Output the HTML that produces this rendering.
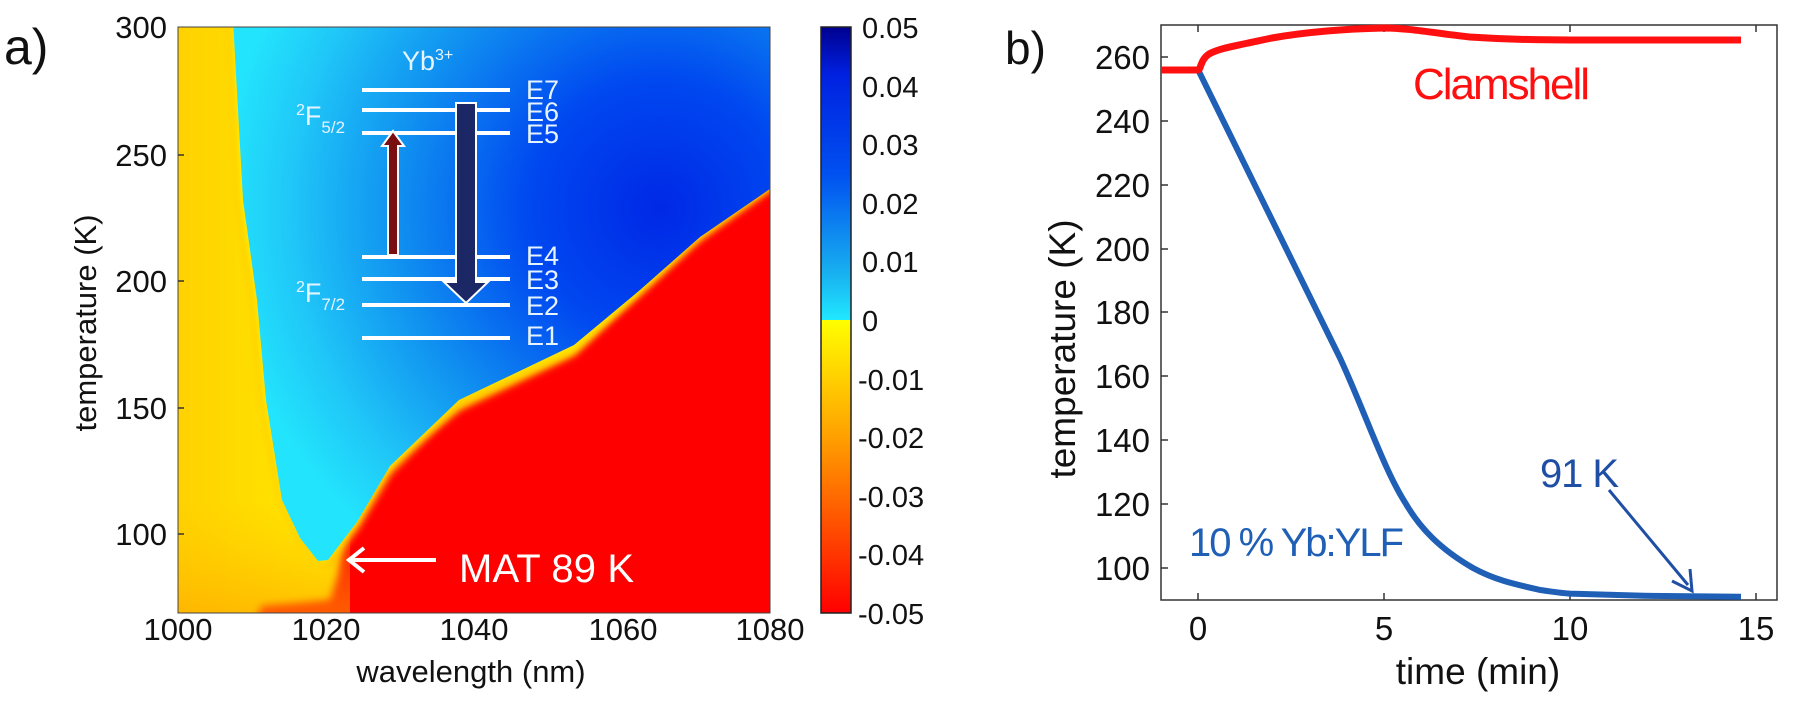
<!DOCTYPE html>
<html><head><meta charset="utf-8"><style>
html,body{margin:0;padding:0;background:#fff;}
svg{display:block;}
text{font-family:"Liberation Sans",Arial,sans-serif;}
</style></head><body>
<svg width="1804" height="703" viewBox="0 0 1804 703" xmlns="http://www.w3.org/2000/svg">
<defs>
<linearGradient id="yel" x1="0" y1="0" x2="1" y2="0">
<stop offset="0" stop-color="#ffd000"/><stop offset="0.25" stop-color="#ffe800"/><stop offset="1" stop-color="#fff400"/>
</linearGradient>
<linearGradient id="yelv" x1="0" y1="0" x2="0" y2="1">
<stop offset="0" stop-color="#ffd000" stop-opacity="0"/><stop offset="0.8" stop-color="#ffc000" stop-opacity="0"/><stop offset="1" stop-color="#ffa000" stop-opacity="0.6"/>
</linearGradient>
<radialGradient id="blu" cx="0.78" cy="0.35" r="0.8">
<stop offset="0" stop-color="#0028e6"/><stop offset="0.3" stop-color="#0048f0"/><stop offset="0.6" stop-color="#1090f0"/><stop offset="0.85" stop-color="#20c8f8"/><stop offset="1" stop-color="#22e4fc"/>
</radialGradient>
<linearGradient id="cbar" x1="0" y1="0" x2="0" y2="1">
<stop offset="0" stop-color="#00008f"/><stop offset="0.08" stop-color="#0020e0"/><stop offset="0.25" stop-color="#0050f0"/><stop offset="0.42" stop-color="#18b0f0"/><stop offset="0.5" stop-color="#20e8ff"/>
<stop offset="0.5" stop-color="#ffff00"/><stop offset="0.7" stop-color="#ffa000"/><stop offset="0.85" stop-color="#ff5000"/><stop offset="1" stop-color="#ff0000"/>
</linearGradient>
<filter id="bl" x="-0.1" y="-0.1" width="1.2" height="1.2"><feGaussianBlur stdDeviation="4"/></filter>
<clipPath id="pa"><rect x="178" y="27" width="592" height="586"/></clipPath>
</defs>

<g clip-path="url(#pa)">
<rect x="170" y="20" width="610" height="600" fill="#ff0000"/>
<path d="M170,20 L780,20 L780,178 L689,245 L631,300 L574,355 L459,410 L400,455 L367,480 L345,530 L338,575 L330,600 L300,603 L262,606 L255,620 L170,620 Z" fill="url(#yel)" filter="url(#bl)"/>
<rect x="170" y="20" width="180" height="600" fill="url(#yelv)"/>
<path d="M780,182 L700,240 L640,293 L574,350 L459,405 L390,475 L357,530 L330,565 L318,563 L300,540 L280,500 L262,400 L253,300 L238,200 L230,20 L780,20 Z" fill="#ffa000" filter="url(#bl)" opacity="0.9"/>
<path d="M780,182 L700,237 L640,293 L574,350 L459,402 L390,470 L357,525 L328,563 L318,564 L300,540 L280,500 L262,400 L253,300 L238,200 L230,20 L780,20 Z" fill="#fff000" filter="url(#bl)"/>
<path d="M780,182 L700,237 L640,290 L574,345 L459,400 L390,466 L357,522 L328,560 L318,561 L300,538 L282,500 L266,400 L257,300 L243,200 L233,20 L780,20 Z" fill="url(#blu)"/>
</g>
<rect x="178" y="27" width="592" height="586" fill="none" stroke="#444" stroke-width="1"/>

<g stroke="#fff" stroke-width="4">
<line x1="362" y1="90" x2="510" y2="90"/><line x1="362" y1="110" x2="510" y2="110"/><line x1="362" y1="133" x2="510" y2="133"/>
<line x1="362" y1="257" x2="510" y2="257"/><line x1="362" y1="279" x2="510" y2="279"/><line x1="362" y1="305" x2="510" y2="305"/><line x1="362" y1="338" x2="510" y2="338"/>
</g>
<path d="M388,255 L388,146 L382,146 L393,131 L404,146 L398,146 L398,255 Z" fill="#7a0f12" stroke="#fff" stroke-width="2"/>
<path d="M456,103 L476,103 L476,282 L488,282 L466,303 L444,282 L456,282 Z" fill="#1c2766" stroke="#fff" stroke-width="2"/>
<g fill="#e6f4ff" font-size="27">
<text x="526" y="99">E7</text><text x="526" y="121">E6</text><text x="526" y="143">E5</text>
<text x="526" y="265">E4</text><text x="526" y="289">E3</text><text x="526" y="315">E2</text><text x="526" y="345">E1</text>
<text x="402" y="70">Yb<tspan font-size="16" dy="-10">3+</tspan></text>
<text x="296" y="125"><tspan font-size="16" dy="-10">2</tspan><tspan dy="10">F</tspan><tspan font-size="17" dy="8">5/2</tspan></text>
<text x="296" y="302"><tspan font-size="16" dy="-10">2</tspan><tspan dy="10">F</tspan><tspan font-size="17" dy="8">7/2</tspan></text>
</g>
<line x1="436" y1="560" x2="352" y2="560" stroke="#fff" stroke-width="4"/>
<path d="M364,548 L349,560 L364,572" fill="none" stroke="#fff" stroke-width="4"/>
<text x="459" y="582" fill="#fff" font-size="40" textLength="175">MAT 89 K</text>

<g font-size="31" fill="#111" text-anchor="end">
<text x="167" y="38">300</text><text x="167" y="166">250</text><text x="167" y="292">200</text><text x="167" y="419">150</text><text x="167" y="545">100</text>
</g>
<g stroke="#333" stroke-width="1.5">
<line x1="178" y1="155" x2="184" y2="155"/><line x1="178" y1="281" x2="184" y2="281"/><line x1="178" y1="408" x2="184" y2="408"/><line x1="178" y1="534" x2="184" y2="534"/>
</g>
<g font-size="31" fill="#111" text-anchor="middle">
<text x="178" y="640">1000</text><text x="326" y="640">1020</text><text x="474" y="640">1040</text><text x="623" y="640">1060</text><text x="770" y="640">1080</text>
<text x="471" y="682">wavelength (nm)</text>
<text transform="translate(96,323) rotate(-90)">temperature (K)</text>
</g>
<text x="4" y="64" font-size="50" fill="#111">a)</text>

<rect x="821" y="27" width="30" height="586" fill="url(#cbar)" stroke="#222" stroke-width="1.5"/>
<g font-size="29" fill="#111">
<text x="862" y="38">0.05</text><text x="862" y="97">0.04</text><text x="862" y="155">0.03</text><text x="862" y="214">0.02</text><text x="862" y="272">0.01</text><text x="862" y="331">0</text>
<text x="858" y="390">-0.01</text><text x="858" y="448">-0.02</text><text x="858" y="507">-0.03</text><text x="858" y="565">-0.04</text><text x="858" y="624">-0.05</text>
</g>

<rect x="1161" y="25" width="616" height="575" fill="none" stroke="#333" stroke-width="1.5"/>
<g stroke="#333" stroke-width="1.5">
<line x1="1161" y1="57" x2="1168" y2="57"/><line x1="1161" y1="121" x2="1168" y2="121"/><line x1="1161" y1="185" x2="1168" y2="185"/><line x1="1161" y1="249" x2="1168" y2="249"/><line x1="1161" y1="312" x2="1168" y2="312"/><line x1="1161" y1="376" x2="1168" y2="376"/><line x1="1161" y1="440" x2="1168" y2="440"/><line x1="1161" y1="504" x2="1168" y2="504"/><line x1="1161" y1="568" x2="1168" y2="568"/>
<line x1="1198" y1="600" x2="1198" y2="593"/><line x1="1384" y1="600" x2="1384" y2="593"/><line x1="1570" y1="600" x2="1570" y2="593"/><line x1="1756" y1="600" x2="1756" y2="593"/>
<line x1="1198" y1="25" x2="1198" y2="32"/><line x1="1384" y1="25" x2="1384" y2="32"/><line x1="1570" y1="25" x2="1570" y2="32"/><line x1="1756" y1="25" x2="1756" y2="32"/>
</g>
<g font-size="33" fill="#111" text-anchor="end">
<text x="1150" y="69">260</text><text x="1150" y="133">240</text><text x="1150" y="197">220</text><text x="1150" y="261">200</text><text x="1150" y="324">180</text><text x="1150" y="388">160</text><text x="1150" y="452">140</text><text x="1150" y="516">120</text><text x="1150" y="580">100</text>
</g>
<g font-size="33" fill="#111" text-anchor="middle">
<text x="1198" y="640">0</text><text x="1384" y="640">5</text><text x="1570" y="640">10</text><text x="1756" y="640">15</text>
<text x="1478" y="684" font-size="37">time (min)</text>
<text transform="translate(1075,349) rotate(-90)" font-size="37">temperature (K)</text>
</g>
<text x="1005" y="64" font-size="46" fill="#111">b)</text>

<path d="M1198,69.6 L1340,358 C1365,412 1384,470 1406,504 C1420,528 1440,549 1473,568 C1495,580 1514,584 1540,590 C1555,592 1560,593 1570,593.6 L1644,595.8 L1741,596.8" fill="none" stroke="#1f5fb5" stroke-width="6" stroke-linejoin="round"/>
<path d="M1161,70 L1198,70 C1201,70 1200,60 1209,54 C1220,48 1235,46 1272,38 C1300,33 1340,29 1384,28 C1410,28 1440,34 1470,37 C1500,39 1530,40 1570,40 L1741,40" fill="none" stroke="#ff1010" stroke-width="7" stroke-linejoin="round"/>

<text x="1413" y="99" font-size="44" fill="#ff1010" textLength="177">Clamshell</text>
<text x="1189" y="556" font-size="40" fill="#1f5fb5" textLength="215">10 % Yb:YLF</text>
<text x="1540" y="487" font-size="40" fill="#1f4fa5" textLength="79">91 K</text>
<line x1="1609" y1="490" x2="1688" y2="585" stroke="#1f4fa5" stroke-width="3"/>
<path d="M1672,581 L1692,591 L1690,569" fill="none" stroke="#1f4fa5" stroke-width="3"/>
</svg>
</body></html>
